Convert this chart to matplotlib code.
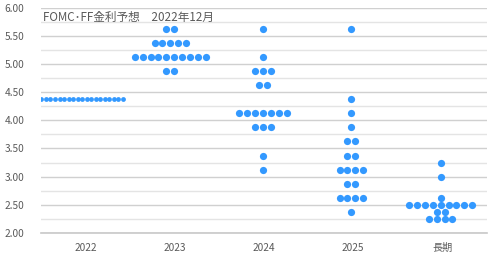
import numpy as np
import matplotlib
matplotlib.use("Agg")
import matplotlib.pyplot as plt

plt.rcParams['font.family'] = ['Noto Sans CJK JP', 'DejaVu Sans']

# FOMC ドットチャート 2022年12月
categories = ["2022", "2023", "2024", "2025", "長期"]
rates_2022 = [4.375]
counts_2022 = [19]
rates_2023 = [5.625, 5.375, 5.125, 4.875]
counts_2023 = [2, 5, 10, 2]
rates_2024 = [5.625, 5.125, 4.875, 4.625, 4.125, 3.875, 3.375, 3.125]
counts_2024 = [1, 1, 3, 2, 7, 3, 1, 1]
rates_2025 = [5.625, 4.375, 4.125, 3.875, 3.625, 3.375, 3.125, 2.875, 2.625, 2.375]
counts_2025 = [1, 1, 1, 1, 2, 2, 4, 2, 4, 1]
rates_long = [3.25, 3.0, 2.625, 2.5, 2.375, 2.25]
counts_long = [1, 1, 1, 9, 2, 4]

columns = [(rates_2022, counts_2022), (rates_2023, counts_2023),
           (rates_2024, counts_2024), (rates_2025, counts_2025),
           (rates_long, counts_long)]

# 点の横間隔と大きさ (2022 は点が多いので小さい)
gap = [0.0505, 0.0886, 0.0886, 0.0886, 0.0886]
size = [12, 27, 27, 27, 27]
shift = [-0.04, -0.05, -0.01, -0.02, -0.02]

blue = "#3399FF"
grey = "#595959"

fig = plt.figure(figsize=(5.0, 2.57), dpi=100)
ax = fig.add_axes([0.082, 0.0934, 0.892, 0.877])

for i, (rates, counts) in enumerate(columns):
    xs, ys = [], []
    for r, n in zip(rates, counts):
        for k in range(n):
            xs.append(i + shift[i] + (k - (n - 1) / 2) * gap[i])
            ys.append(r)
    ax.scatter(xs, ys, s=size[i], color=blue, linewidths=0, zorder=3)

ax.set_xlim(-0.5, 4.5)
ax.set_ylim(2.0, 6.0)
ax.set_xticks(range(len(categories)))
ax.set_xticklabels(categories)
ax.set_yticks(np.arange(2.0, 6.01, 0.5))
ax.set_yticklabels([f"{v:.2f}" for v in np.arange(2.0, 6.01, 0.5)])
ax.set_yticks(np.arange(2.25, 6.0, 0.5), minor=True)

ax.grid(axis="y", which="major", color="#d0d0d0", linewidth=1.0)
ax.grid(axis="y", which="minor", color="#e4e4e4", linewidth=1.0)
ax.set_axisbelow(True)
for s in ["top", "right", "left"]:
    ax.spines[s].set_visible(False)
ax.spines["bottom"].set_color("#c8c8c8")
ax.spines["bottom"].set_linewidth(1.2)

ax.tick_params(axis="both", which="both", length=0, labelsize=7.3, colors=grey, pad=7)
ax.tick_params(axis="y", pad=12)

ax.text(0.004, 0.958, "FOMC･FF金利予想　2022年12月", transform=ax.transAxes,
        fontsize=8.4, color=grey, va="center", ha="left")

fig.savefig("out.png", dpi=100, facecolor="white")
